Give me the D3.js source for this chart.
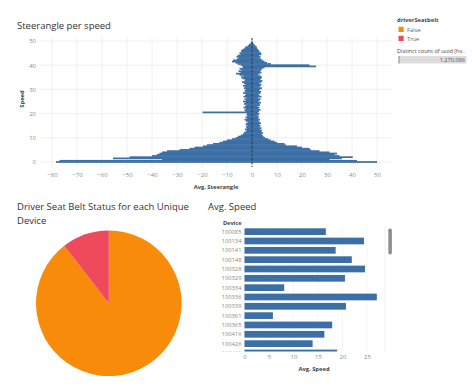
<!DOCTYPE html>
<html><head><meta charset="utf-8">
<script src="https://cdn.jsdelivr.net/npm/d3@7"></script>
<style>
html,body{margin:0;padding:0;background:#fff;}
svg{display:block;font-family:"Open Sans",sans-serif;}
</style></head>
<body>
<svg id="c" width="474" height="388"></svg>
<script>
// ---- Steerangle per speed ----
const speedLevels = [0,0.5,1,1.5,2,2.5,3,3.5,4,4.5,5,5.5,6,6.5,7,7.5,8,8.5,9,9.5,
 10,10.5,11,11.5,12,12.5,13,13.5,14,14.5,15,15.5,16,16.5,17,17.5,18,18.5,19,19.5,
 20,20.5,21,21.5,22,22.5,23,23.5,24,24.5,25,25.5,26,26.5,27,27.5,28,28.5,29,29.5,
 30,30.5,31,31.5,32,32.5,33,33.5,34,34.5,35,35.5,36,36.5,37,37.5,38,38.5,39,39.5,
 40,40.5,41,41.5,42,42.5,43,43.5,44,44.5,45,45.5,46,46.5,47,47.5,48,48.5,49,49.5];
const minSteer = [-78.4,-77,-36,-55.6,-49,-40,-38,-37,-36,-34,-29,-25,-23,-19.6,-18,-15.6,-13,-11.6,-10,-8,
 -6.5,-5.6,-4.5,-3.6,-3.2,-2.6,-2.2,-2.8,-2.0,-2.4,-1.8,-2.6,-2.2,-1.6,-2.4,-3.0,-2.0,-2.6,-1.8,-2.2,
 -2.0,-19.8,-2.6,-3.0,-2.4,-3.4,-2.8,-2.2,-3.2,-2.6,-3.6,-2.4,-3.0,-2.2,-3.4,-2.8,-2.4,-3.6,-2.6,-3.0,
 -2.4,-3.2,-2.8,-3.6,-2.6,-3.2,-4.0,-3.0,-2.8,-3.8,-4.4,-3.4,-5.0,-6.4,-4.6,-5.4,-4.2,-5.0,-3.8,-3.7,
 -4.4,-5.7,-6.6,-8.0,-7.6,-6.0,-5.4,-6.2,-5.7,-4.6,-5.0,-4.2,-4.4,-3.7,-3.0,-2.6,-1.7,-1.2,-0.6,-0.3];
const maxSteer = [50,42,31,36,40.3,35,33,34,31,27,23.5,23,20,18,13.5,13,10,9,7.5,6.5,
 5.2,4.6,4.2,3.8,4.4,3.6,4.0,3.2,3.8,3.0,3.4,2.8,3.6,3.0,2.6,3.2,2.4,2.8,2.2,2.6,
 3.0,2.4,2.8,3.4,2.6,3.0,2.2,3.2,2.8,3.6,2.6,3.0,3.4,2.4,3.8,3.0,2.6,3.4,3.6,2.8,
 3.2,4.0,3.0,3.4,3.8,2.8,3.6,4.2,3.2,3.6,4.0,3.4,2.4,3.0,3.8,3.2,3.6,4.0,5.0,25.6,
 23.0,7.6,6.0,5.0,4.3,3.6,3.0,3.4,2.9,3.8,3.6,3.0,2.9,2.4,2.0,1.9,1.4,0.9,0.5,0.3];
const steerTicks = [-80,-70,-60,-50,-40,-30,-20,-10,0,10,20,30,40,50];
const speedTicks = [0,10,20,30,40,50];

// ---- Seat belt pie ----
const seatbeltLabels = ["False","True"];
const seatbeltCounts = [1136700, 133400];
const seatbeltColors = ["#F88B0A","#EE4A5C"];
const sizeLegendValue = "1,270,096";

// ---- Avg. Speed ----
const devices = ["100085","100134","100141","100148","100328","100329","100334","100336","100339","100361","100365","100416","100426","100441"];
const avgSpeed = [16.6,24.4,18.6,21.9,24.6,20.5,8.1,27.0,20.7,5.8,17.9,16.3,13.9,18.9];
const speedAxisTicks = [0,5,10,15,20,25];

const svg = d3.select("#c");
const blue = "#3C6FA5";
const grid = "#ececec";
const tickCol = "#8a8a8a";
const titleCol = "#333";

// ===== Top chart =====
svg.append("text").attr("x",17).attr("y",29).attr("font-size",9.5).attr("fill",titleCol).text("Steerangle per speed");

const xS = d3.scaleLinear().domain([-80,50]).range([52,377]);
const yS = d3.scaleLinear().domain([0,50]).range([162,41]);
const plotL = 40, plotR = 393, plotT = 37, plotB = 168;

const g1 = svg.append("g");
g1.selectAll("line.vg").data(steerTicks).join("line")
  .attr("x1",d=>xS(d)).attr("x2",d=>xS(d)).attr("y1",plotT).attr("y2",plotB)
  .attr("stroke",grid).attr("stroke-width",0.8);
g1.selectAll("line.hg").data(speedTicks).join("line")
  .attr("x1",plotL).attr("x2",plotR).attr("y1",d=>yS(d)).attr("y2",d=>yS(d))
  .attr("stroke",grid).attr("stroke-width",0.8);

const bandH = Math.abs(yS(0.5)-yS(0));
const steerRows = speedLevels.map((s,i)=>({s, lo:minSteer[i], hi:maxSteer[i]}));
g1.selectAll("rect.lo").data(steerRows).join("rect")
  .attr("x",d=>xS(d.lo)).attr("width",d=>xS(0)-xS(d.lo))
  .attr("y",d=>yS(d.s)-bandH/2-0.25).attr("height",bandH+0.5).attr("fill",blue);
g1.selectAll("rect.hi").data(steerRows).join("rect")
  .attr("x",xS(0)).attr("width",d=>xS(d.hi)-xS(0))
  .attr("y",d=>yS(d.s)-bandH/2-0.25).attr("height",bandH+0.5).attr("fill",blue);

g1.append("line").attr("x1",xS(0)).attr("x2",xS(0)).attr("y1",38).attr("y2",167)
  .attr("stroke","#1d3550").attr("stroke-width",1).attr("stroke-dasharray","2.5,1.5");

const xAx = d3.axisBottom(xS).tickValues(steerTicks).tickSize(0).tickPadding(0);
const gx = svg.append("g").attr("transform","translate(0,177)").call(xAx);
gx.select(".domain").remove();
gx.selectAll("text").attr("font-size",6).attr("fill",tickCol).attr("dy","0").attr("font-family","Open Sans");

const yAx = d3.axisLeft(yS).tickValues(speedTicks).tickSize(0).tickPadding(0);
const gy = svg.append("g").attr("transform","translate(36,0)").call(yAx);
gy.select(".domain").remove();
gy.selectAll("text").attr("font-size",6).attr("fill",tickCol).attr("font-family","Open Sans");

svg.append("text").attr("x",216).attr("y",189).attr("text-anchor","middle")
  .attr("font-size",5.8).attr("font-weight","bold").attr("fill","#444").text("Avg. Steerangle");
svg.append("text").attr("transform","translate(24,99) rotate(-90)").attr("text-anchor","middle")
  .attr("font-size",5.8).attr("font-weight","bold").attr("fill","#444").text("Speed");

// ===== Legend =====
svg.append("text").attr("x",397).attr("y",22).attr("font-size",5.8).attr("font-weight","bold").attr("fill","#444").text("driverSeatbelt");
const lg = svg.append("g");
seatbeltLabels.forEach((l,i)=>{
  lg.append("rect").attr("x",398.5).attr("y",26.8+i*9).attr("width",5.2).attr("height",5.2).attr("fill",seatbeltColors[i]);
  lg.append("text").attr("x",407).attr("y",31.6+i*9).attr("font-size",5.8).attr("fill","#666").text(l);
});
svg.append("text").attr("x",397).attr("y",53).attr("font-size",5.6).attr("fill","#444").text("Distinct count of uuid (hv..");
svg.append("rect").attr("x",398.5).attr("y",56).attr("width",68).attr("height",7.5).attr("fill","#dcdcdc");
svg.append("line").attr("x1",399).attr("x2",399).attr("y1",56).attr("y2",63.5).attr("stroke","#777").attr("stroke-width",0.8);
svg.append("text").attr("x",465).attr("y",62).attr("text-anchor","end").attr("font-size",5.6).attr("fill","#555").text(sizeLegendValue);

// ===== Pie =====
svg.append("text").attr("x",17).attr("y",210).attr("font-size",9.5).attr("fill",titleCol).text("Driver Seat Belt Status for each Unique");
svg.append("text").attr("x",17).attr("y",224).attr("font-size",9.5).attr("fill",titleCol).text("Device");
const pie = d3.pie().sort(null).value(d=>d.v);
const arcs = pie(seatbeltLabels.map((l,i)=>({l, v:seatbeltCounts[i], c:seatbeltColors[i]})));
const arcGen = d3.arc().innerRadius(0).outerRadius(72.8);
svg.append("g").attr("transform","translate(108.8,303.3)")
  .selectAll("path").data(arcs).join("path").attr("d",arcGen).attr("fill",d=>d.data.c);

// ===== Avg. Speed =====
svg.append("text").attr("x",208).attr("y",210).attr("font-size",9.5).attr("fill",titleCol).text("Avg. Speed");
svg.append("text").attr("x",241.5).attr("y",225).attr("text-anchor","end").attr("font-size",5.6).attr("font-weight","bold").attr("fill","#444").text("Device");

const sx = d3.scaleLinear().domain([0,25]).range([244.5,367]);
const step = 9.33;
const sy = d3.scaleBand().domain(devices).range([227, 227+step*devices.length]).paddingInner(0.28).paddingOuter(0.14);

svg.append("defs").append("clipPath").attr("id","rowsClip").append("rect").attr("x",200).attr("y",226).attr("width",190).attr("height",125.5);
const g3 = svg.append("g").attr("clip-path","url(#rowsClip)");
g3.selectAll("line.sg").data(speedAxisTicks).join("line")
  .attr("x1",d=>sx(d)).attr("x2",d=>sx(d)).attr("y1",227).attr("y2",352)
  .attr("stroke","#f3f3f3").attr("stroke-width",0.8);
g3.selectAll("rect").data(devices).join("rect")
  .attr("x",sx(0)).attr("y",d=>sy(d)).attr("height",sy.bandwidth())
  .attr("width",(d,i)=>sx(avgSpeed[i])-sx(0)).attr("fill",blue);
g3.selectAll("text").data(devices).join("text")
  .attr("x",241.5).attr("y",d=>sy(d)+sy.bandwidth()/2).attr("dy","0.35em")
  .attr("text-anchor","end").attr("font-size",5.8).attr("fill","#888").text(d=>d);

svg.append("line").attr("x1",385).attr("x2",385).attr("y1",226).attr("y2",352).attr("stroke","#eeeeee").attr("stroke-width",0.8);
svg.append("rect").attr("x",388.3).attr("y",228.5).attr("width",3.6).attr("height",26).attr("rx",1.8).attr("fill","#8e8e8e");

const sAx = d3.axisBottom(sx).tickValues(speedAxisTicks).tickSize(0).tickPadding(0);
const gs = svg.append("g").attr("transform","translate(0,359)").call(sAx);
gs.select(".domain").remove();
gs.selectAll("text").attr("font-size",6).attr("fill",tickCol).attr("dy","0").attr("font-family","Open Sans");
svg.append("text").attr("x",314).attr("y",371).attr("text-anchor","middle").attr("font-size",5.8).attr("font-weight","bold").attr("fill","#444").text("Avg. Speed");
</script>
</body></html>
